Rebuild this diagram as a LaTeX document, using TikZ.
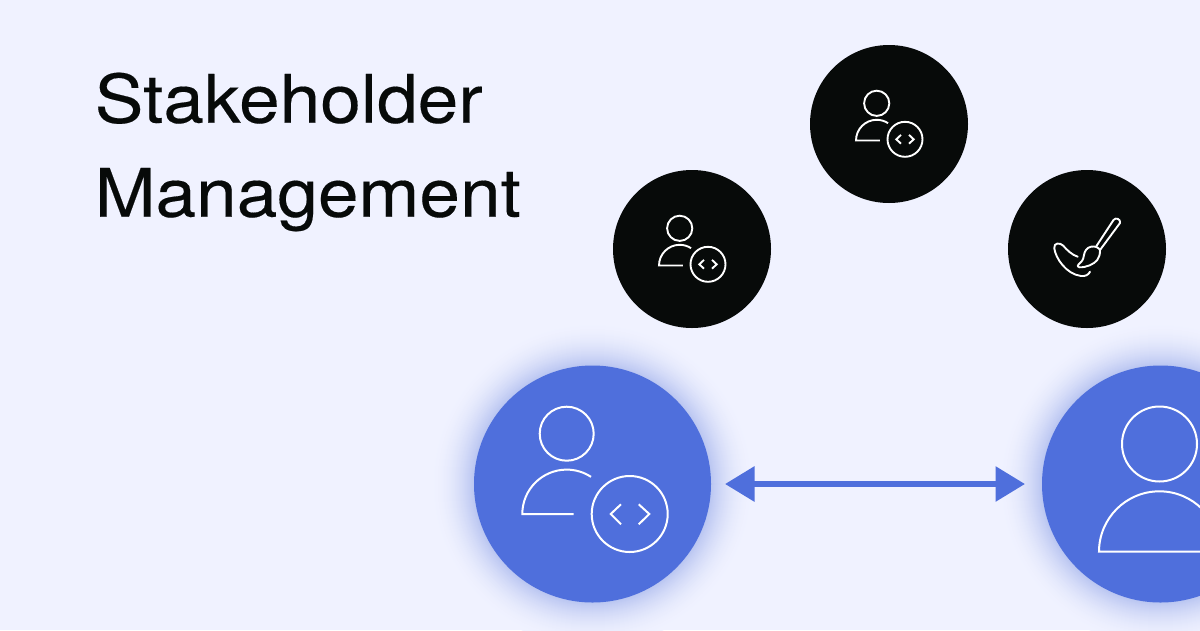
\documentclass[tikz,border=0pt]{standalone}
\usepackage{fontspec}
\setmainfont[FakeStretch=1.09,FakeBold=0.25]{TeX Gyre Heros}
\usetikzlibrary{arrows.meta}
\definecolor{bgc}{HTML}{F0F2FF}
\definecolor{blu}{HTML}{4F6FDC}
\definecolor{blk}{HTML}{070A09}
\definecolor{glw}{HTML}{B9C5F1}
\tikzset{
  bigdot/.style={circle,fill=blu,minimum size=237pt,inner sep=0pt,outer sep=0pt},
  smalldot/.style={circle,fill=blk,minimum size=158pt,inner sep=0pt,outer sep=0pt},
  iconline/.style={draw=white,line width=#1,line cap=butt,line join=miter},
  title/.style={font=\fontsize{67}{67}\selectfont,text=blk,anchor=base west,inner sep=0pt},
  link/.style={blu,line width=6pt,{Triangle[length=29.5pt,width=34pt]}-{Triangle[length=29.5pt,width=34pt]},shorten <=14pt,shorten >=17pt}
}
\begin{document}
\begin{tikzpicture}[x=1pt,y=-1pt]
\useasboundingbox (0,0) rectangle (1200,630);
\fill[bgc] (0,0) rectangle (1200,630);
\foreach \i in {0,...,44}{
  \pgfmathsetmacro{\rr}{162.5-\i}
  \pgfmathsetmacro{\pp}{100*(\i/44)*(\i/44)}
  \fill[glw!\pp!bgc] (592.5,484) circle (\rr);
  \fill[glw!\pp!bgc] (1160.5,484) circle (\rr);
}
\node[title] (t1) at (94.5,122.7) {Stakeholder};
\node[title] (t2) at (94.5,216.7) {Management};
\node[smalldot] (a) at (889,124) {};
\node[smalldot] (b) at (692,249) {};
\node[smalldot] (c) at (1087,249) {};
\node[bigdot] (lead) at (592.5,484) {};
\node[bigdot] (stake) at (1160.5,484) {};
\draw[link] (lead.east) -- (stake.west);
% big developer icon
\begin{scope}[iconline=2pt]
\draw (566.7,433.7) circle (27);
\draw (573.7,514) -- (522.3,514) arc[start angle=180,end angle=56.8,x radius=44.4,y radius=-44.4];
\draw (629.7,514) circle (38);
\draw (621,504.3) -- (610.7,514) -- (621,524.3);
\draw (638.7,504.3) -- (649.3,514) -- (638.7,524.3);
\end{scope}
% big person icon
\begin{scope}[iconline=2pt]
\draw (1159.5,444) circle (37.5);
\draw (1099,551.7) arc[start angle=180,end angle=0,x radius=60.4,y radius=-60.4] -- cycle;
\end{scope}
% small developer icons
\foreach \ox/\oy in {876.7/103.3,679.7/228.3}{
\begin{scope}[shift={(\ox,\oy)},iconline=1.9pt]
\draw (0,0) circle (12.6);
\draw (3.2,37.2) -- (-20.7,37.2) arc[start angle=180,end angle=56.8,x radius=20.7,y radius=-20.7];
\draw (28.3,36) circle (17.5);
\draw (24.3,31.6) -- (19.6,36) -- (24.3,40.4);
\draw (32.3,31.6) -- (37,36) -- (32.3,40.4);
\end{scope}}
% brush
\begin{scope}[iconline=1.9pt,line join=round,line cap=round]
\draw (1096,246.7) -- (1113.5,220) .. controls (1115.5,217) and (1121,219) .. (1120,223) -- (1100,250);
\draw (1100,250) .. controls (1100,254) and (1099.5,257) .. (1097.3,260) .. controls (1094,264) and (1087,267.5) .. (1079.3,267.3) .. controls (1077.5,267) and (1077,265.5) .. (1078.5,264.5) .. controls (1081,262.5) and (1083.5,260) .. (1084,255) .. controls (1084.5,251) and (1087,247.5) .. (1091,246.7) .. controls (1095,246) and (1098,247) .. (1100,250);
\draw (1077.7,256.7) .. controls (1072,255) and (1067,250) .. (1063,245.5) .. controls (1060,242.5) and (1053.5,242.5) .. (1054.3,248.3) .. controls (1055.5,258) and (1066,274) .. (1081,276) .. controls (1085,276.5) and (1088.5,275) .. (1090,271.7);
\end{scope}
\end{tikzpicture}
\end{document}
